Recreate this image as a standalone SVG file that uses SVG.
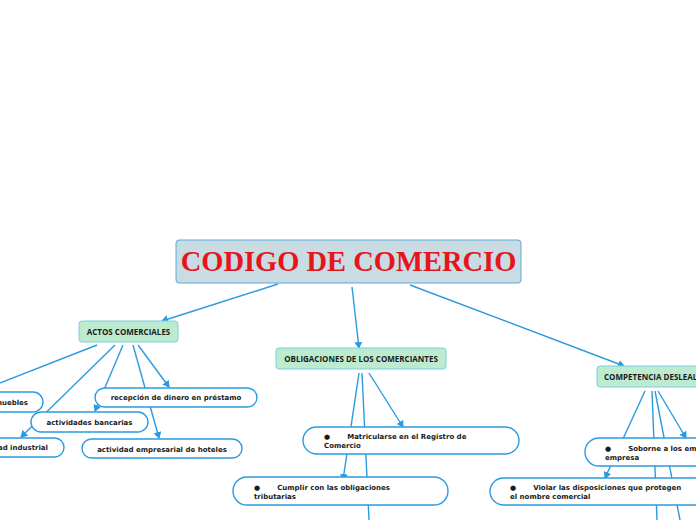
<svg xmlns="http://www.w3.org/2000/svg" width="696" height="520" viewBox="0 0 696 520">
<style>
.c{fill:none;stroke:#2a9be0;stroke-width:1.4}
.h{fill:#bdebd0;stroke:#7ccfe0;stroke-width:1}
.l{fill:#fff;stroke:#2a9be0;stroke-width:1.4}
.ht{font-family:"Open Sans","DejaVu Sans",sans-serif;font-size:8px;font-weight:bold;fill:#1a1a1a}
.lt{font-family:Verdana,"DejaVu Sans",sans-serif;font-size:7px;font-weight:bold;fill:#1a1a1a;white-space:pre}
</style>
<defs><marker id="a" markerWidth="8" markerHeight="8" refX="6" refY="4" orient="auto" markerUnits="userSpaceOnUse"><path d="M0,0L7,4L0,8z" fill="#2a9be0"/></marker></defs>
<g id="connectors">
<path class="c" d="M278,284L162,321" marker-end="url(#a)"/>
<path class="c" d="M352,287L359,348" marker-end="url(#a)"/>
<path class="c" d="M410,285L624,366" marker-end="url(#a)"/>
<path class="c" d="M97,345L-5,385"/>
<path class="c" d="M115,345L21,437" marker-end="url(#a)"/>
<path class="c" d="M123,345L95,411" marker-end="url(#a)"/>
<path class="c" d="M133,345L159,438" marker-end="url(#a)"/>
<path class="c" d="M138,345L169,387" marker-end="url(#a)"/>
<path class="c" d="M359,373L343,480" marker-end="url(#a)"/>
<path class="c" d="M362,373L369,520"/>
<path class="c" d="M369,373L403,427" marker-end="url(#a)"/>
<path class="c" d="M645,391L605,478" marker-end="url(#a)"/>
<path class="c" d="M652,391L657,520"/>
<path class="c" d="M655,391L680,520"/>
<path class="c" d="M658,391L686,438" marker-end="url(#a)"/>
</g>
<g id="title"><rect x="176" y="240" width="345" height="43" rx="3" fill="#c9dce3" stroke="#5aaad6"/><text x="348.5" y="271" text-anchor="middle" font-family="Liberation Serif,serif" font-weight="bold" font-size="28.5" fill="#e8141c">CODIGO DE COMERCIO</text></g>
<g id="actos"><rect class="h" x="79" y="321" width="99" height="21" rx="3"/><text class="ht" x="128.5" y="334.5" text-anchor="middle">ACTOS COMERCIALES</text></g>
<g id="oblig"><rect class="h" x="276" y="348" width="170" height="21" rx="3"/><text class="ht" x="361" y="361.5" text-anchor="middle">OBLIGACIONES DE LOS COMERCIANTES</text></g>
<g id="comp"><rect class="h" x="597" y="366" width="110" height="21" rx="3"/><text class="ht" x="604" y="379.5">COMPETENCIA DESLEAL</text></g>
<g id="n1"><rect class="l" x="-30" y="392" width="73" height="20" rx="10"/><text class="lt" x="28" y="404.5" text-anchor="end">inmuebles</text></g>
<g id="n2"><rect class="l" x="95" y="388" width="162" height="19" rx="9.5"/><text class="lt" x="176" y="400" text-anchor="middle">recepción de dinero en préstamo</text></g>
<g id="n3"><rect class="l" x="31" y="412" width="117" height="20" rx="10"/><text class="lt" x="89.5" y="424.5" text-anchor="middle">actividades bancarias</text></g>
<g id="n4"><rect class="l" x="-40" y="438" width="104" height="19" rx="9.5"/><text class="lt" x="48" y="450" text-anchor="end">actividad industrial</text></g>
<g id="n5"><rect class="l" x="82" y="439" width="160" height="19" rx="9.5"/><text class="lt" x="162" y="451.5" text-anchor="middle">actividad empresarial de hoteles</text></g>
<g id="n6"><rect class="l" x="303" y="427" width="216" height="27" rx="13.5"/><text class="lt" x="324" y="439">●       Matricularse en el Registro de</text><text class="lt" x="324" y="448">Comercio</text></g>
<g id="n7"><rect class="l" x="233" y="477" width="215" height="28" rx="14"/><text class="lt" x="254" y="490">●       Cumplir con las obligaciones</text><text class="lt" x="254" y="499">tributarias</text></g>
<g id="n8"><rect class="l" x="490" y="478" width="230" height="27" rx="13.5"/><text class="lt" x="510" y="490">●       Violar las disposiciones que protegen</text><text class="lt" x="510" y="499">el nombre comercial</text></g>
<g id="n9"><rect class="l" x="585" y="438" width="135" height="28" rx="14"/><text class="lt" x="605" y="451">●       Soborne a los empleados de otra</text><text class="lt" x="605" y="460">empresa</text></g>
</svg>
